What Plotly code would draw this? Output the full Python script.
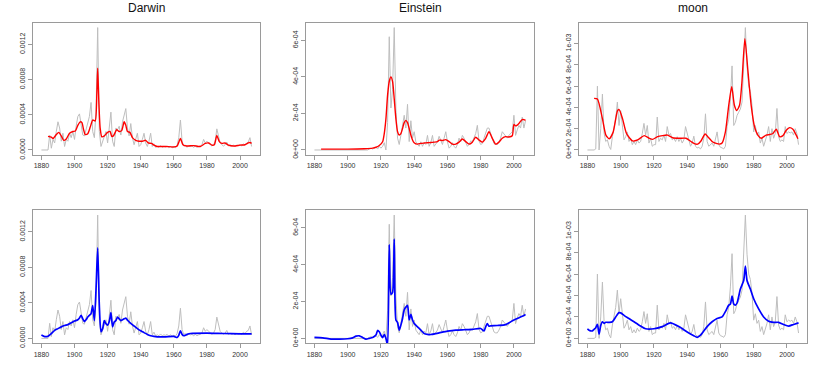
import plotly.graph_objects as go

UNIT = 1e-4
YEARS = list(range(1880, 2008))

# raw yearly frequencies (units of 1e-4), 1880..2007
darwin_raw = [
    0, 0, 0, 0, 0,
    1.7, 0.2, 1.2, 0.8, 2.1,
    3.2, 2.5, 1.0, 1.9, 0.4,
    1.2, 1.0, 1.9, 1.4, 2.1,
    1.2, 2.7, 3.8, 4.1, 2.9,
    1.7, 1.6, 2.3, 2.9, 3.8,
    5.4, 2.1, 1.4, 4.3, 13.9,
    2.1, 0.4, 1.0, 1.6, 2.1,
    0.8, 2.5, 4.3, 1.0, 0.4,
    2.5, 2.3, 2.7, 1.7, 3.2,
    4.0, 4.7, 2.5, 1.6, 3.0,
    1.4, 0.6, 1.4, 1.9, 0.4,
    0.6, 1.2, 1.9, 0.8, 0.4,
    1.0, 1.9, 0.4, 0.7, 0.3,
    0.4, 0.3, 0.5, 0.3, 0.4,
    0.35, 0.45, 0.25, 0.4, 0.25,
    0.35, 0.25, 0.55, 1.4, 3.4,
    1.0, 0.45, 0.55, 0.3, 0.5,
    0.4, 0.45, 0.3, 0.45, 0.3,
    0.4, 0.45, 0.6, 1.2, 0.8,
    1.0, 0.8, 0.6, 0.45, 0.6,
    1.0, 2.4, 1.4, 0.8, 0.6,
    0.45, 0.6, 0.9, 0.45, 0.6,
    0.45, 0.55, 0.4, 0.55, 0.5,
    0.6, 0.45, 0.7, 0.55, 0.8,
    0.9, 1.4, 0.4,
]

einstein_raw = [0] * 33 + [
    0.05, 0.1, 0.05, 0.1, 0.15,
    0.05, 0.2, 0.1, 0.2, 0.4,
    0.0, 1.5, 6.2, 2.3, 3.3,
    6.7, 2.25, 0.65, 0.3, 0.8,
    1.35, 1.9, 1.2, 2.5, 0.46,
    1.6, 0.65, 1.0, 0.45, 0.35,
    0.2, 0.45, 0.2, 0.4, 0.3,
    0.8, 0.2, 0.4, 0.8, 0.2,
    0.3, 0.45, 0.75, 0.55, 0.3,
    0.65, 1.0, 0.45, 0.1, 0.2,
    0.4, 0.2, 0.1, 0.3, 0.65,
    0.45, 0.8, 0.65, 0.4, 0.2,
    0.3, 0.5, 0.45, 0.65, 0.9,
    1.35, 0.5, 0.3, 0.35, 0.65,
    1.0, 1.2, 1.2, 0.9, 0.55,
    0.35, 0.3, 0.3, 0.45, 0.65,
    1.0, 0.9, 0.8, 0.65, 0.8,
    0.9, 1.0, 1.9, 0.8, 1.1,
    1.35, 1.2, 1.8, 1.2, 1.6,
]

moon_raw = [
    0, 0, 0, 0, 0,
    0.1, 6.0, 0.0, 2.0, 5.25,
    1.6, 0.8, 0.95, 0.35, 0.05,
    1.25, 2.0, 2.9, 4.5, 2.3,
    3.7, 2.0, 0.95, 1.25, 1.7,
    0.8, 1.1, 0.5, 0.8, 0.5,
    0.95, 0.65, 0.8, 1.55, 2.5,
    1.4, 2.3, 0.65, 1.1, 0.35,
    0.5, 0.5, 3.1, 0.8, 1.1,
    0.95, 1.4, 0.8, 2.2, 1.4,
    1.55, 0.95, 1.1, 0.8, 1.25,
    0.8, 1.1, 0.65, 0.95, 2.2,
    1.55, 0.95, 0.35, 0.65, 1.3,
    0.35, 0.2, 0.25, 0.1, 0.35,
    1.1, 3.4, 0.8, 0.35, 0.5,
    0.65, 0.35, 1.1, 1.7, 0.5,
    0.25, 0.2, 0.1, 0.35, 2.2,
    2.9, 4.8, 7.9, 2.3, 2.6,
    3.25, 3.55, 3.85, 4.5, 7.5,
    11.5, 7.85, 6.0, 5.5, 4.2,
    1.7, 2.3, 1.4, 1.7, 0.65,
    1.1, 0.35, 0.8, 1.4, 2.2,
    0.8, 2.0, 1.1, 1.55, 3.9,
    1.25, 0.8, 0.95, 0.8, 2.2,
    1.55, 1.7, 1.6, 1.7, 1.4,
    2.0, 1.55, 0.5,
]

# smoothed curves (red = top row, blue = bottom row), read at knots
darwin_red_x = [1884, 1886, 1887, 1889, 1890.5, 1892, 1893.5, 1895, 1897, 1899, 1900.5, 1902, 1903.5, 1904.5,
                1905.5, 1906.5, 1908, 1909.5, 1911, 1912.5, 1913.5, 1914, 1914.7, 1915.5, 1916.5, 1918, 1920,
                1921.5, 1922.5, 1923.5, 1925.5, 1927, 1928.5, 1930, 1931, 1932, 1933.5, 1935, 1937, 1939, 1941,
                1943, 1944.5, 1946.5, 1948, 1950, 1955, 1960, 1962, 1964, 1965.5, 1968, 1972, 1976, 1979, 1981,
                1983, 1984.5, 1986, 1987.5, 1989, 1991, 1993, 1996, 2000, 2003, 2005, 2006, 2007]
darwin_red_y = [1.55, 1.45, 1.3, 1.75, 2.0, 1.6, 1.1, 1.25, 1.9, 2.1, 2.15, 2.8, 3.2, 3.1,
                2.3, 1.75, 1.85, 2.6, 3.4, 3.3, 6.5, 9.3, 5.5, 2.5, 1.5, 1.6, 2.0,
                2.1, 1.55, 1.6, 2.3, 2.1, 2.2, 3.2, 2.8, 2.1, 2.0, 1.4, 1.1, 1.0, 1.0,
                1.1, 0.8, 0.75, 0.55, 0.4, 0.4, 0.35, 0.45, 1.3, 0.6, 0.45, 0.5, 0.4, 0.75, 0.8,
                0.55, 0.6, 1.65, 0.95, 0.75, 0.8, 0.55, 0.45, 0.55, 0.6, 0.8, 0.85, 0.75]

darwin_blue_x = [1880, 1882, 1884, 1886, 1888, 1890, 1892, 1894, 1896, 1898, 1900, 1902, 1903, 1904, 1905,
                 1906, 1907, 1908, 1909, 1910, 1911, 1912, 1913, 1914, 1915, 1916, 1917, 1918, 1919, 1920,
                 1921, 1922, 1923, 1924, 1925, 1926, 1927, 1928, 1929, 1930, 1931, 1932, 1934, 1936, 1938,
                 1940, 1942, 1944, 1946, 1948, 1950, 1955, 1960, 1962, 1963, 1964, 1965, 1966, 1968, 1970,
                 1980, 1990, 2000, 2007]
darwin_blue_y = [0.37, 0.2, 0.25, 0.55, 0.9, 1.1, 1.3, 1.45, 1.55, 1.75, 1.95, 2.1, 2.3, 2.6, 2.2,
                 1.9, 2.1, 2.4, 2.6, 2.8, 3.7, 2.0, 5.5, 10.2, 3.7, 0.75, 1.1, 2.0, 1.65, 1.5,
                 1.9, 2.9, 1.3, 1.85, 2.0, 2.4, 2.2, 2.0, 2.1, 2.2, 2.3, 2.05, 1.7, 1.4, 1.1,
                 0.85, 0.65, 0.45, 0.3, 0.22, 0.18, 0.18, 0.22, 0.1, 0.35, 0.85, 0.45, 0.3, 0.45, 0.55,
                 0.6, 0.55, 0.52, 0.52]

einstein_red_x = [1884, 1900, 1910, 1915, 1917, 1919, 1921, 1922, 1923, 1924, 1925, 1926, 1927, 1928, 1929,
                  1930, 1931, 1932, 1933, 1934, 1935, 1936, 1937, 1938, 1939, 1940, 1942, 1944, 1946, 1948,
                  1950, 1952, 1954, 1955, 1957, 1959, 1961, 1963, 1965, 1967, 1969, 1971, 1973, 1975, 1977,
                  1979, 1981, 1983, 1985, 1987, 1989, 1991, 1993, 1995, 1997, 1999, 2000, 2001, 2002, 2003,
                  2004, 2005, 2006, 2007]
einstein_red_y = [0.05, 0.05, 0.07, 0.1, 0.15, 0.25, 0.45, 0.9, 1.7, 3.0, 3.75, 4.0, 3.75, 2.8, 1.7,
                  1.0, 0.82, 0.9, 1.18, 1.5, 1.62, 1.5, 1.18, 0.82, 0.55, 0.4, 0.32, 0.36, 0.38, 0.4,
                  0.41, 0.43, 0.46, 0.54, 0.52, 0.57, 0.46, 0.32, 0.32, 0.43, 0.6, 0.46, 0.32, 0.43, 0.7,
                  0.55, 0.43, 0.64, 1.0, 0.64, 0.32, 0.43, 0.64, 0.73, 0.71, 0.78, 1.4, 1.32, 1.36, 1.45,
                  1.57, 1.66, 1.66, 1.62]

einstein_blue_x = [1880, 1885, 1890, 1895, 1900, 1903, 1905, 1907, 1909, 1911, 1913, 1915, 1917, 1918, 1919,
                   1920, 1921, 1922, 1923, 1924, 1925, 1926, 1927, 1928, 1929, 1930, 1931, 1932, 1933, 1934,
                   1935, 1936, 1937, 1938, 1939, 1940, 1942, 1944, 1946, 1948, 1950, 1955, 1960, 1965, 1970,
                   1975, 1980, 1982, 1983, 1984, 1985, 1986, 1990, 1995, 2000, 2005, 2007]
einstein_blue_y = [0.05, 0.03, -0.04, -0.04, -0.02, 0.03, 0.12, 0.14, 0.05, -0.04, 0.0, 0.05, 0.18, 0.43, 0.36,
                   0.18, 0.04, 0.2, 0.0, -0.4, 5.1, 2.4, 2.5, 5.4, 1.0, 0.87, 0.45, 0.72, 1.08, 1.55,
                   1.7, 1.8, 1.0, 1.3, 1.0, 0.81, 0.63, 0.45, 0.27, 0.22, 0.21, 0.3, 0.39, 0.45, 0.47,
                   0.49, 0.54, 0.4, 0.63, 0.8, 0.66, 0.68, 0.7, 0.75, 1.0, 1.2, 1.3]

moon_red_x = [1884.0, 1886.0, 1889.0, 1891.1, 1893.1, 1895.5, 1898.1, 1899.1, 1901.1, 1903.5, 1907.1, 1910.2,
              1914.2, 1917.2, 1919.2, 1922.2, 1928.2, 1931.3, 1935.3, 1939.3, 1942.3, 1944.3, 1946.3, 1948.3,
              1950.8, 1952.4, 1955.4, 1959.4, 1961.0, 1963.0, 1965.0, 1966.8, 1968.4, 1969.8, 1971.5, 1972.9,
              1974.7, 1976.5, 1978.5, 1980.5, 1982.5, 1984.5, 1987.5, 1989.5, 1991.6, 1993.6, 1995.6, 1997.6,
              1999.6, 2001.6, 2003.6, 2005.6, 2006.6]
moon_red_y = [4.85, 4.8, 2.95, 1.4, 1.05, 1.7, 3.7, 3.8, 2.95, 1.55, 0.85, 0.95,
              1.35, 1.1, 1.0, 1.25, 1.4, 1.15, 1.1, 1.1, 0.8, 0.6, 0.55, 0.85,
              1.5, 1.25, 0.75, 0.55, 0.65, 1.7, 4.2, 5.95, 4.2, 3.7, 4.2, 6.3,
              10.45, 7.5, 4.2, 2.2, 1.4, 1.1, 1.4, 1.45, 1.55, 1.95, 1.25, 1.35,
              1.85, 2.1, 1.95, 1.4, 1.05]

moon_blue_x = [1880, 1881, 1882, 1883, 1884, 1885, 1886, 1887, 1888, 1889, 1890, 1891, 1893, 1895, 1897,
               1899, 1900, 1902, 1905, 1908, 1912, 1915, 1920, 1925, 1930, 1935, 1940, 1944, 1946, 1948,
               1952, 1955, 1958, 1961, 1963, 1965, 1966, 1967, 1968, 1969, 1970, 1972, 1974, 1975, 1976,
               1978, 1980, 1983, 1986, 1989, 1992, 1995, 1998, 2001, 2004, 2007]
moon_blue_y = [0.9, 0.75, 0.7, 0.7, 0.85, 1.0, 1.3, 0.4, 1.2, 1.55, 1.4, 1.5, 1.5, 1.55, 2.0,
               2.4, 2.38, 2.15, 1.85, 1.55, 1.15, 0.9, 0.9, 1.1, 1.45, 1.1, 0.6, 0.25, 0.1, 0.3,
               1.1, 1.55, 1.85, 2.0, 2.5, 3.1, 3.2, 3.95, 3.2, 3.1, 3.3, 4.6, 5.4, 6.75, 5.4,
               4.6, 3.7, 2.75, 2.0, 1.6, 1.5, 1.5, 1.3, 1.15, 1.3, 1.45]

titles = ["Darwin", "Einstein", "moon"]
x_tickvals = [1880, 1900, 1920, 1940, 1960, 1980, 2000]
x_ticktext = ["1880", "1900", "1920", "1940", "1960", "1980", "2000"]
darwin_yticks = [0, 0.0004, 0.0008, 0.0012]
darwin_ytext = ["0.0000", "0.0004", "0.0008", "0.0012"]
einstein_yticks = [0, 0.0002, 0.0004, 0.0006]
einstein_ytext = ["0e+00", "2e-04", "4e-04", "6e-04"]
moon_yticks = [0, 0.0002, 0.0004, 0.0006, 0.0008, 0.001]
moon_ytext = ["0e+00", "2e-04", "4e-04", "6e-04", "8e-04", "1e-03"]

W, H = 813, 372
col_px = [(33, 260), (306, 534), (579, 807)]
row_px = [(23, 157), (213, 348)]

panels = [
    (darwin_raw, darwin_red_x, darwin_red_y, "#ff0000", darwin_yticks, darwin_ytext),
    (einstein_raw, einstein_red_x, einstein_red_y, "#ff0000", einstein_yticks, einstein_ytext),
    (moon_raw, moon_red_x, moon_red_y, "#ff0000", moon_yticks, moon_ytext),
    (darwin_raw, darwin_blue_x, darwin_blue_y, "#0000ff", darwin_yticks, darwin_ytext),
    (einstein_raw, einstein_blue_x, einstein_blue_y, "#0000ff", einstein_yticks, einstein_ytext),
    (moon_raw, moon_blue_x, moon_blue_y, "#0000ff", moon_yticks, moon_ytext),
]

fig = go.Figure()
FONT = "Liberation Sans, Arial, Helvetica, sans-serif"
AXC = "#9a9a9a"
layout = {}
for i, (raw, sx, sy, col, ytv, ytt) in enumerate(panels):
    r, c = divmod(i, 3)
    n = i + 1
    xa = "x" if n == 1 else f"x{n}"
    ya = "y" if n == 1 else f"y{n}"
    raw_v = [v * UNIT for v in raw]
    fig.add_trace(go.Scatter(x=YEARS, y=raw_v, mode="lines", xaxis=xa, yaxis=ya,
                             line=dict(color="#bebebe", width=1), showlegend=False, hoverinfo="skip"))
    fig.add_trace(go.Scatter(x=sx, y=[v * UNIT for v in sy], mode="lines", xaxis=xa, yaxis=ya,
                             line=dict(color=col, width=1.4 if r == 0 else 1.7, shape="spline", smoothing=0.6),
                             showlegend=False, hoverinfo="skip"))
    lo, hi = min(raw_v), max(raw_v)
    pad = 0.04 * (hi - lo)
    x0, x1 = col_px[c]
    y0, y1 = row_px[r]
    common = dict(showgrid=False, zeroline=False, showline=True, mirror=True, linecolor=AXC, linewidth=1,
                  ticks="outside", ticklen=4, tickcolor=AXC, tickwidth=1,
                  tickfont=dict(family=FONT, size=7, color="#333333"))
    layout["xaxis" if n == 1 else f"xaxis{n}"] = dict(
        domain=[x0 / W, x1 / W], range=[1874.92, 2012.08], anchor=ya,
        tickvals=x_tickvals, ticktext=x_ticktext, tickangle=0, **common)
    layout["yaxis" if n == 1 else f"yaxis{n}"] = dict(
        domain=[1 - y1 / H, 1 - y0 / H], range=[lo - pad, hi + pad], anchor=xa,
        tickvals=ytv, ticktext=ytt, tickangle=-90, **common)

annotations = []
for c, t in enumerate(titles):
    x0, x1 = col_px[c]
    annotations.append(dict(text=t, x=(x0 + x1) / 2 / W, y=1 - 8.5 / H, xref="paper", yref="paper",
                            xanchor="center", yanchor="middle", showarrow=False,
                            font=dict(family=FONT, size=12, color="#111111")))

fig.update_layout(width=W, height=H, margin=dict(l=0, r=0, t=0, b=0),
                  plot_bgcolor="white", paper_bgcolor="white", annotations=annotations, **layout)
fig.write_html("out.html", config={"displayModeBar": False},
               post_script="document.body.style.margin='0';document.body.style.overflow='hidden';")
